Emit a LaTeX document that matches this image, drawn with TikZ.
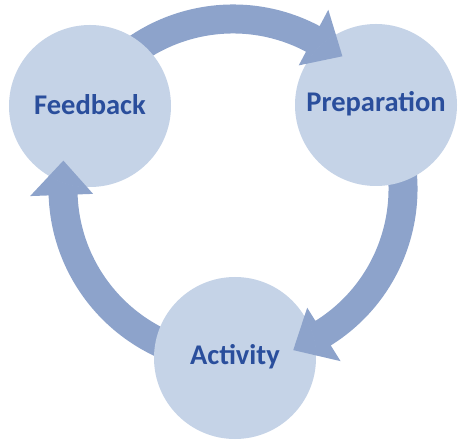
\documentclass[tikz,border=0pt]{standalone}
\usepackage{fontspec}
\setmainfont{Carlito}
\usetikzlibrary{calc}
\definecolor{circfill}{HTML}{C5D3E7}
\definecolor{arrowfill}{HTML}{8DA3CB}
\definecolor{labeltext}{HTML}{2A4E9C}
\tikzset{
  stagedisc/.style={fill=circfill},
  stagelabel/.style={inner sep=0pt, text=labeltext,
    font=\bfseries\fontsize{28.5}{28.5}\selectfont},
  arrowshape/.style={fill=arrowfill},
}
\newcommand{\cyclearrow}[1]{%
  \fill[arrowshape] ([shift={(#1:184.5)}]C)
    arc[start angle=#1, end angle=#1-88, radius=184.5]
    -- ([shift={(#1-88:203)}]C)
    -- ([shift={(#1-99.5:172)}]C)
    -- ([shift={(#1-88:140)}]C)
    -- ([shift={(#1-88:155.5)}]C)
    arc[start angle=#1-88, end angle=#1, radius=155.5]
    -- cycle;}
\begin{document}
\begin{tikzpicture}[x=1pt,y=1pt]
\useasboundingbox (0,0) rectangle (468,444);
\coordinate (C) at (233,255);
\coordinate (fbc) at (90,338);
\coordinate (prepc) at (376,339);
\coordinate (actc) at (235,86);
% shafts under the circles
\cyclearrow{150}
\cyclearrow{30}
\cyclearrow{270}
% circles
\fill[stagedisc] (fbc) circle[radius=81];
\fill[stagedisc] (prepc) circle[radius=81];
\fill[stagedisc] (actc) circle[radius=81];
% arrow heads on top of the target circles
\begin{scope}
  \clip (prepc) circle[radius=81.5];
  \cyclearrow{150}
\end{scope}
\begin{scope}
  \clip (actc) circle[radius=81.5];
  \cyclearrow{30}
\end{scope}
\begin{scope}
  \clip (fbc) circle[radius=81.5];
  \cyclearrow{270}
\end{scope}
% labels
\node[stagelabel] (fb) at ([yshift=1]fbc) {Feedback};
\node[stagelabel] (prep) at ([yshift=1]prepc) {Preparation};
\node[stagelabel] (act) at ([yshift=1]actc) {Activity};
\end{tikzpicture}
\end{document}
